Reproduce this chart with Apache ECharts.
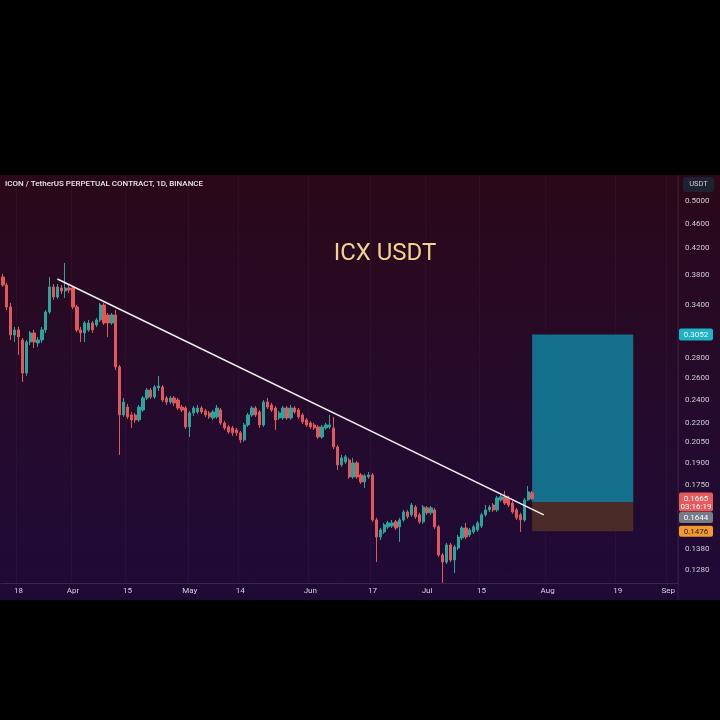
<!DOCTYPE html>
<html><head><meta charset="utf-8">
<script src="https://cdn.jsdelivr.net/npm/echarts@6/dist/echarts.min.js"></script>
<style>
html,body{margin:0;padding:0;background:#000;width:720px;height:720px;overflow:hidden}
#wrap{position:absolute;left:0;top:175px;width:720px;height:425px;background:linear-gradient(180deg,#2a0819 0%,#250a2a 50%,#1f0a37 100%)}
#c{width:720px;height:425px}
</style></head><body>
<div id="wrap"><div id="c"></div></div>
<script>
// ---- data ----
const startDate = '2024-03-14';
const dayCount = 174;
const opens = [.3776,.3666,.3380,.3048,.3105,.2992,.2648,.2970,.3071,.2959,.2992,.3105,.3318,.3639,.3507,.3626,.3586,.3626,.3626,.3380,
.3105,.3071,.3105,.3186,.3163,.3222,.3405,.3282,.3186,.3282,.2708,.2268,.2335,.2268,.2268,.2227,.2310,.2415,.2487,.2424,
.2506,.2515,.2415,.2379,.2415,.2397,.2335,.2327,.2170,.2285,.2293,.2327,.2302,.2285,.2243,.2252,.2310,.2202,.2170,.2162,
.2146,.2123,.2068,.2186,.2268,.2327,.2293,.2186,.2379,.2353,.2327,.2243,.2243,.2327,.2243,.2327,.2310,.2268,.2227,.2202,
.2186,.2170,.2091,.2162,.2170,.2162,.2015,.1886,.1907,.1921,.1804,.1900,.1817,.1771,.1804,.1817,.1539,.1445,.1472,.1500,
.1505,.1528,.1500,.1539,.1585,.1568,.1614,.1568,.1528,.1609,.1580,.1597,.1500,.1352,.1317,.1403,.1327,.1387,.1440,.1494,
.1456,.1472,.1483,.1505,.1568,.1597,.1626,.1597,.1657,.1676,.1669,.1638,.1597,.1568,.1539,.1657,.1701];
const closes = [.3666,.3380,.3048,.3105,.3026,.2648,.2970,.3071,.2970,.2992,.3105,.3318,.3639,.3507,.3639,.3586,.3626,.3599,.3380,.3105,
.3071,.3186,.3186,.3105,.3222,.3405,.3186,.3186,.3282,.2708,.2268,.2379,.2252,.2227,.2227,.2335,.2415,.2487,.2424,.2515,
.2524,.2397,.2379,.2415,.2371,.2327,.2310,.2170,.2285,.2327,.2327,.2293,.2268,.2252,.2293,.2327,.2202,.2162,.2130,.2123,
.2123,.2068,.2186,.2268,.2327,.2268,.2186,.2379,.2335,.2310,.2227,.2285,.2327,.2243,.2327,.2293,.2252,.2211,.2186,.2170,
.2162,.2091,.2170,.2186,.2186,.2015,.1886,.1935,.1943,.1804,.1900,.1804,.1771,.1811,.1817,.1539,.1445,.1483,.1511,.1522,
.1522,.1494,.1539,.1585,.1557,.1626,.1557,.1528,.1614,.1580,.1609,.1500,.1352,.1317,.1403,.1327,.1393,.1445,.1494,.1445,
.1483,.1500,.1522,.1568,.1597,.1614,.1597,.1669,.1676,.1638,.1626,.1585,.1551,.1539,.1657,.1707,.1665];
const highs = [.3818,.3693,.3430,.3140,.3140,.3014,.2992,.3094,.3105,.3026,.3140,.3343,.3776,.3680,.3680,.3666,.3976,.3666,.3653,.3405,
.3140,.3210,.3222,.3210,.3246,.3430,.3430,.3306,.3306,.3343,.2728,.2415,.2362,.2293,.2285,.2353,.2433,.2506,.2506,.2534,
.2619,.2534,.2433,.2433,.2433,.2415,.2353,.2344,.2302,.2344,.2353,.2344,.2319,.2302,.2310,.2353,.2327,.2219,.2186,.2178,
.2162,.2138,.2202,.2285,.2344,.2344,.2310,.2397,.2415,.2371,.2344,.2302,.2344,.2344,.2353,.2344,.2327,.2285,.2243,.2219,
.2202,.2186,.2186,.2202,.2268,.2252,.2030,.1957,.1957,.1935,.1935,.1914,.1831,.1824,.1837,.1831,.1551,.1494,.1522,.1533,
.1539,.1539,.1551,.1597,.1597,.1638,.1626,.1580,.1626,.1620,.1620,.1609,.1511,.1362,.1413,.1413,.1403,.1456,.1505,.1522,
.1494,.1511,.1533,.1580,.1626,.1626,.1638,.1682,.1688,.1713,.1682,.1651,.1609,.1580,.1669,.1745,.1713];
const lows = [.3640,.3343,.2992,.2970,.2831,.2562,.2619,.2937,.2905,.2915,.2959,.3071,.3294,.3469,.3482,.3546,.3495,.3559,.3355,.3082,
.2970,.2970,.3082,.3071,.3140,.3198,.3163,.3026,.3163,.2678,.1957,.2252,.2235,.2162,.2202,.2211,.2293,.2397,.2406,.2406,
.2478,.2379,.2353,.2362,.2344,.2310,.2293,.2154,.2091,.2260,.2276,.2276,.2252,.2235,.2227,.2235,.2186,.2146,.2115,.2099,
.2099,.2045,.2053,.2170,.2252,.2252,.2162,.2170,.2319,.2293,.2146,.2227,.2227,.2227,.2227,.2276,.2235,.2194,.2170,.2154,
.2146,.2076,.2076,.2146,.2154,.2000,.1851,.1872,.1893,.1791,.1791,.1791,.1758,.1732,.1791,.1528,.1317,.1429,.1461,.1489,
.1494,.1483,.1419,.1528,.1545,.1557,.1545,.1517,.1517,.1568,.1568,.1489,.1342,.1219,.1308,.1317,.1265,.1377,.1429,.1434,
.1445,.1461,.1472,.1494,.1557,.1585,.1585,.1585,.1645,.1626,.1614,.1574,.1539,.1472,.1528,.1651,.1657];
const priceTicks = [0.5, 0.46, 0.42, 0.38, 0.34, 0.28, 0.26, 0.24, 0.22, 0.205, 0.19, 0.175, 0.138, 0.128];
const xTickDates = ['2024-03-18','2024-04-01','2024-04-15','2024-05-01','2024-05-14','2024-06-01','2024-06-17','2024-07-01','2024-07-15','2024-08-01','2024-08-19','2024-09-01'];
const xTickLabels = ['18','Apr','15','May','14','Jun','17','Jul','15','Aug','19','Sep'];
const trendDates = ['2024-03-28','2024-07-31'];
const trendPrices = [0.3748, 0.1568];
const positionDates = ['2024-07-28','2024-08-23'];
const targetPrice = 0.3052, entryPrice = 0.1644, stopPrice = 0.1476, lastPrice = 0.1665;
const countdown = '03:16:19';
const yMin = 0.1219, yMax = 0.5484;

// ---- build ----
const ln = Math.log;
const dates = [];
const d0 = new Date(startDate + 'T00:00:00Z');
for (let i = 0; i < dayCount; i++) dates.push(new Date(d0.getTime() + i * 86400000).toISOString().slice(0, 10));
const labelMap = {};
xTickDates.forEach((d, i) => labelMap[d] = xTickLabels[i]);
const candleData = dates.map((d, i) => i < opens.length ? [ln(opens[i]), ln(closes[i]), ln(lows[i]), ln(highs[i])] : '-');

const UP = '#29a59c', DOWN = '#e0575c';
const FONT = 'Roboto, "Noto Sans", sans-serif';
const chart = echarts.init(document.getElementById('c'), null, {renderer: 'canvas'});
chart.setOption({
  animation: false,
  backgroundColor: 'transparent',
  grid: {left: 1, right: 42, top: 1, bottom: 17},
  xAxis: {
    type: 'category', data: dates, boundaryGap: true,
    axisLine: {show: true, lineStyle: {color: 'rgba(255,255,255,0.12)'}},
    axisTick: {show: false},
    axisLabel: {interval: (i, v) => labelMap[v] !== undefined, formatter: v => labelMap[v] || '',
      color: '#d6d4de', fontSize: 8, fontFamily: FONT, margin: 4},
    splitLine: {show: true, interval: (i, v) => labelMap[v] !== undefined, lineStyle: {color: 'rgba(255,255,255,0.03)'}}
  },
  yAxis: {
    type: 'value', position: 'right', min: ln(yMin), max: ln(yMax), scale: true,
    axisLine: {show: false}, axisTick: {show: false}, splitLine: {show: false},
    axisLabel: {customValues: priceTicks.map(ln), formatter: v => Math.exp(v).toFixed(4),
      color: '#cfcdd6', fontSize: 8, fontFamily: FONT, margin: 7, align: 'left'}
  },
  series: [
    {
      type: 'candlestick', data: candleData, barWidth: 2.8,
      itemStyle: {color: UP, color0: DOWN, borderColor: UP, borderColor0: DOWN, borderWidth: 1},
      markArea: {
        silent: true,
        data: [
          [{xAxis: positionDates[0], yAxis: ln(targetPrice), itemStyle: {color: '#146f8c'}}, {xAxis: positionDates[1], yAxis: ln(entryPrice)}],
          [{xAxis: positionDates[0], yAxis: ln(entryPrice), itemStyle: {color: '#4b2b28'}}, {xAxis: positionDates[1], yAxis: ln(stopPrice)}]
        ]
      }
    },
    {
      type: 'line', data: trendDates.map((d, i) => [d, ln(trendPrices[i])]),
      symbol: 'none', lineStyle: {color: '#f2f0f2', width: 1.5}, z: 5
    }
  ]
});

const yPix = v => chart.convertToPixel({yAxisIndex: 0}, ln(v));
function box(yc, h, fill, lines, textColor) {
  const els = [{type: 'rect', shape: {x: 679, y: yc - h / 2, width: 34, height: h, r: 2}, style: {fill: fill}, z: 10}];
  lines.forEach((t, k) => els.push({type: 'text', z: 11, style: {text: t, x: 696, y: yc - h / 2 + 6 + k * 8.5,
    fill: textColor, font: '8px ' + FONT, textAlign: 'center', textVerticalAlign: 'middle', align: 'center', verticalAlign: 'middle'}}));
  return els;
}
const yLast = yPix(lastPrice);
const g = [].concat(
  [{type: 'line', shape: {x1: 678, y1: 0, x2: 678, y2: 425}, style: {stroke: 'rgba(255,255,255,0.08)', lineWidth: 1}},
   {type: 'text', style: {text: 'ICON / TetherUS PERPETUAL CONTRACT, 1D, BINANCE', x: 5, y: 9, fill: '#e8e6ee',
     font: '500 8px ' + FONT, textVerticalAlign: 'middle', verticalAlign: 'middle'}},
   {type: 'text', style: {text: 'ICX USDT', x: 385, y: 79, fill: '#f3d28f', font: '24px ' + FONT,
     textAlign: 'center', align: 'center', textVerticalAlign: 'middle', verticalAlign: 'middle'}},
   {type: 'rect', shape: {x: 683, y: 2, width: 31, height: 15, r: 3}, style: {fill: '#1d2130'}},
   {type: 'text', style: {text: 'USDT', x: 698.5, y: 9.5, fill: '#c9ccd6', font: '7.5px ' + FONT,
     textAlign: 'center', align: 'center', textVerticalAlign: 'middle', verticalAlign: 'middle'}}],
  box(yPix(targetPrice), 12, '#1fb2c4', [targetPrice.toFixed(4)], '#eafcff'),
  box(yLast + 3.5, 19, '#e55a5b', [lastPrice.toFixed(4), countdown], '#ffffff'),
  box(yLast + 19, 11, '#787c87', [entryPrice.toFixed(4)], '#ffffff'),
  box(yPix(stopPrice), 11, '#f0992f', [stopPrice.toFixed(4)], '#2a1a10')
);
chart.setOption({graphic: g});
</script>
</body></html>
